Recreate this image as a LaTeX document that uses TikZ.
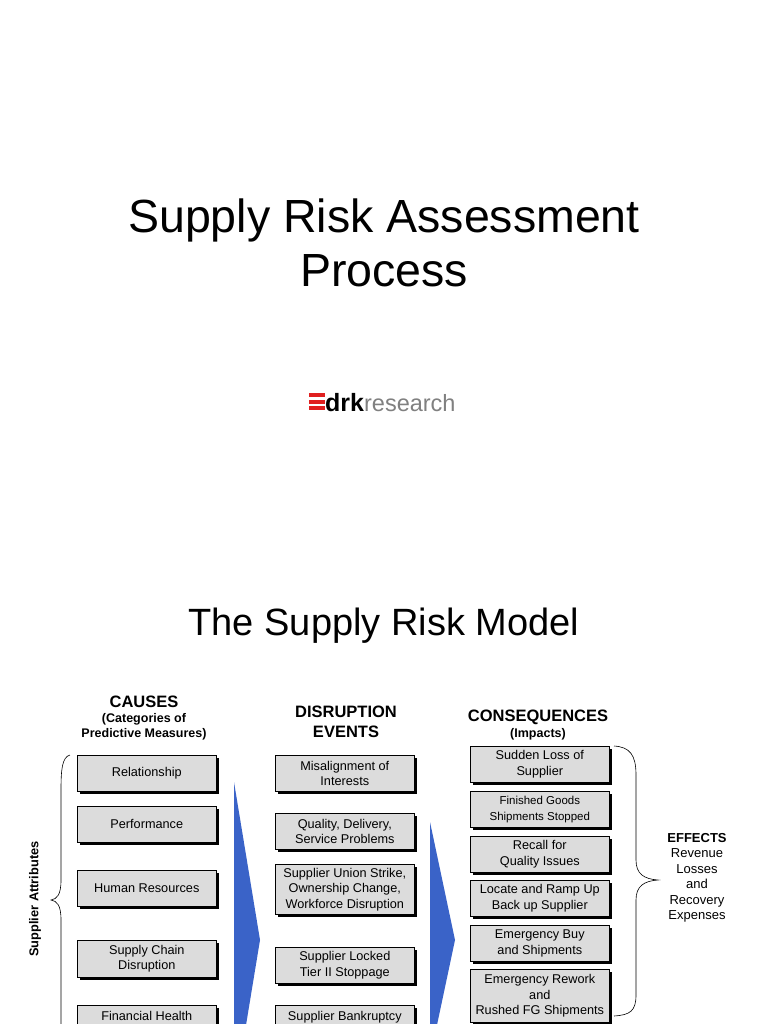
\documentclass[tikz,border=0pt]{standalone}
\usepackage{fontspec}
\setmainfont{Liberation Sans}
\definecolor{boxgray}{HTML}{DCDCDC}
\definecolor{arrowblue}{HTML}{3A63C8}
\definecolor{logored}{HTML}{E02020}
\tikzset{
  rbox/.style={draw=black,fill=boxgray,minimum width=139pt,align=center,inner sep=1pt,font=\fontsize{12.7}{15.5}\selectfont,line width=0.6pt},
  hdr/.style={font=\bfseries\fontsize{16.5}{20}\selectfont,align=center},
  sub/.style={font=\bfseries\fontsize{12.5}{15}\selectfont,align=center},
}
\newcommand{\shbox}[5]{% name, x, ytop, height, text
  \fill[black] (#2+3,#3+3) rectangle (#2+142,#3+#4+3);
  \node[rbox,minimum height=#4pt,anchor=north west] (#1) at (#2,#3) {#5};}
\begin{document}
\begin{tikzpicture}[x=1pt,y=-1pt]
\useasboundingbox (0,0) rectangle (768,1024);
\fill[white] (0,0) rectangle (768,1024);
\begin{scope}
\clip (0,0) rectangle (768,1024);
\node[font=\fontsize{46.5}{54}\selectfont,align=center] (title) at (384,243) {Supply Risk Assessment\\Process};
% logo
\foreach \yy in {393,399.5,406}{\fill[logored] (309,\yy) rectangle (325,\yy+4);}
\node[anchor=west,inner sep=0pt] (logo) at (325,403) {\fontsize{25}{26}\selectfont\bfseries drk\mdseries\color{gray}\fontsize{23.5}{26}\selectfont research};
\node[font=\fontsize{38}{44}\selectfont] (t2) at (384,626) {The Supply Risk Model};
\node[hdr] (h1) at (144,702) {CAUSES};
\node[sub] (h1s) at (144,727) {(Categories of\\Predictive Measures)};
\node[hdr] (h2) at (346,722) {DISRUPTION\\EVENTS};
\node[hdr] (h3) at (538,717) {CONSEQUENCES};
\node[sub] (h3s) at (538,734) {(Impacts)};
% arrows
\fill[arrowblue] (234,782) -- (260,940) -- (234,1098) -- cycle;
\fill[arrowblue] (430,822) -- (455,940) -- (430,1058) -- cycle;
% col1
\shbox{c1}{77}{755}{36}{Relationship}
\shbox{c2}{77}{806}{36}{Performance}
\shbox{c3}{77}{870}{36}{Human Resources}
\shbox{c4}{77}{940}{37}{Supply Chain\\Disruption}
\shbox{c5}{77}{1005}{36}{Financial Health\\ }
% col2
\shbox{d1}{275}{755}{36}{Misalignment of\\Interests}
\shbox{d2}{275}{813}{36}{Quality, Delivery,\\Service Problems}
\shbox{d3}{275}{864}{50}{Supplier Union Strike,\\Ownership Change,\\Workforce Disruption}
\shbox{d4}{275}{947}{36}{Supplier Locked\\Tier II Stoppage}
\shbox{d5}{275}{1005}{36}{Supplier Bankruptcy\\ }
% col3
\shbox{e1}{470}{746}{36}{Sudden Loss of\\Supplier}
\shbox{e2}{470}{791}{36}{\fontsize{11.5}{14}\selectfont Finished Goods\\\fontsize{11.5}{14}\selectfont Shipments Stopped}
\shbox{e3}{470}{836}{36}{Recall for\\Quality Issues}
\shbox{e4}{470}{880}{36}{Locate and Ramp Up\\Back up Supplier}
\shbox{e5}{470}{925}{36}{Emergency Buy\\and Shipments}
\shbox{e6}{470}{969}{53}{Emergency Rework\\and\\Rushed FG Shipments}
% braces
\draw[line width=0.6pt] (70,755) .. controls (62,757) and (61,770) .. (61,790) -- (61,880) .. controls (61,895) and (57,899) .. (51,900) .. controls (57,901) and (61,905) .. (61,920) -- (61,1030);
\node[font=\bfseries\fontsize{12.8}{14}\selectfont,rotate=90] (sa) at (35,899) {Supplier Attributes};
\draw[line width=0.6pt] (614,746) .. controls (630,747) and (636,755) .. (636,775) -- (636,860) .. controls (636,874) and (644,879) .. (658,880) .. controls (644,881) and (636,886) .. (636,900) -- (636,995) .. controls (636,1011) and (630,1015) .. (614,1016);
\node[align=center,font=\fontsize{13}{15.5}\selectfont] (eff) at (697,878) {\textbf{EFFECTS}\\Revenue\\Losses\\and\\Recovery\\Expenses};
\end{scope}
\end{tikzpicture}
\end{document}
